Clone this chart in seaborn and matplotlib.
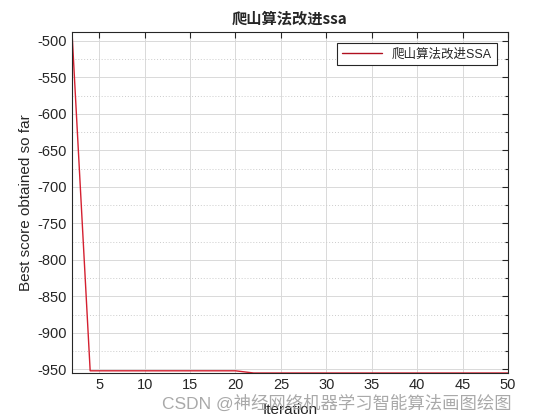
import matplotlib
matplotlib.use("Agg")
import matplotlib.pyplot as plt
import numpy as np
import pandas as pd
import seaborn as sns
from matplotlib.ticker import MultipleLocator

# convergence curve
iterations = list(range(2, 51))
best_score = [-488, -720, -952] + [-952] * 16 + [-953.5] + [-955] * 29

title_text = "爬山算法改进ssa"
legend_label = "爬山算法改进SSA"
watermark = "CSDN @神经网络机器学习智能算法画图绘图"

sns.set_style("white")
plt.rcParams["font.family"] = ["Liberation Sans", "Noto Sans CJK SC", "DejaVu Sans"]
plt.rcParams["axes.unicode_minus"] = False

df = pd.DataFrame({"Iteration": iterations, "score": best_score})

fig = plt.figure(figsize=(5.6, 4.2), dpi=100)
ax = fig.add_axes([72 / 560, 1 - 373 / 420, (508 - 72) / 560, (373 - 32) / 420])

sns.lineplot(data=df, x="Iteration", y="score", ax=ax, color="#d42030",
             linewidth=1.0, label=legend_label)

ax.set_xlim(2, 50)
ax.set_ylim(min(best_score), max(best_score))
ax.xaxis.set_major_locator(MultipleLocator(5))
ax.yaxis.set_major_locator(MultipleLocator(50))
ax.yaxis.set_minor_locator(MultipleLocator(25))
ax.grid(True, which="major", color="#d9d9d9", linewidth=0.7)
ax.grid(True, which="minor", axis="y", color="#cccccc", linewidth=0.7, linestyle=(0, (1, 2)))
ax.set_axisbelow(True)
ax.tick_params(which="both", direction="in", top=True, right=True, labelsize=10.5,
               length=4, width=0.8, colors="#262626")
ax.tick_params(which="minor", length=2)
for s in ax.spines.values():
    s.set_color("#262626")
    s.set_linewidth(0.8)

ax.set_title(title_text, fontsize=11, fontweight="bold",
             family=["Noto Sans CJK SC", "DejaVu Sans"], pad=6)
ax.set_xlabel("Iteration", fontsize=11, labelpad=8)
ax.set_ylabel("Best score obtained so far", fontsize=11, labelpad=3)

leg = ax.legend(loc="upper right", prop={"family": ["Liberation Sans", "Noto Sans CJK SC"], "size": 9},
                fancybox=False, edgecolor="#262626", framealpha=1,
                handlelength=3.2, borderaxespad=0.9)
leg.get_frame().set_linewidth(0.8)
leg.get_lines()[0].set_color("#b01020")

fig.text(512 / 560, 1 - 412 / 420, watermark, ha="right", va="bottom", fontsize=12.5,
         color="#a0a0a0", family=["Liberation Sans", "Noto Sans CJK SC"], alpha=0.9)

fig.savefig("out.png", dpi=100, facecolor="white")
